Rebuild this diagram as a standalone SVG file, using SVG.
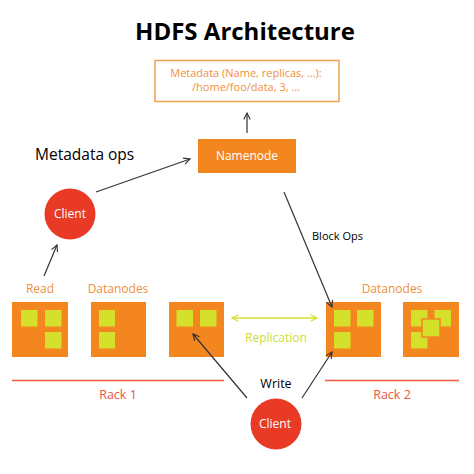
<svg xmlns="http://www.w3.org/2000/svg" width="474" height="474" viewBox="0 0 474 474">
<defs>
<style>
text{font-family:"Open Sans","Noto Sans","Liberation Sans",sans-serif}
.box{fill:#f4861f}
.sq{fill:#d4e02b}
.cl{fill:#e83a25}
.wt{fill:#ffffff;font-size:12px;text-anchor:middle}
.or{fill:#f0903c;font-size:12px;text-anchor:middle}
.rk{fill:#e8553e;font-size:12.5px;text-anchor:middle}
.ln{stroke:#333;stroke-width:1.2;fill:none}
</style>
<marker id="ah" viewBox="0 0 10 10" refX="9" refY="5" markerWidth="8" markerHeight="8" orient="auto-start-reverse" markerUnits="userSpaceOnUse">
<path d="M1,1 L9,5 L1,9" fill="none" stroke="#333" stroke-width="1.4"/>
</marker>
<marker id="ahg" viewBox="0 0 10 10" refX="9" refY="5" markerWidth="8" markerHeight="8" orient="auto-start-reverse" markerUnits="userSpaceOnUse">
<path d="M1,1 L9,5 L1,9" fill="none" stroke="#d4e02b" stroke-width="1.4"/>
</marker>
</defs>
<rect width="474" height="474" fill="#fff"/>
<text x="245" y="40" font-size="24" font-weight="bold" text-anchor="middle" fill="#000">HDFS Architecture</text>

<g id="metadata">
<rect x="155" y="60.5" width="184" height="41" fill="#fff" stroke="#f0a050" stroke-width="1.5"/>
<text x="246" y="77" fill="#f0903c" font-size="11" text-anchor="middle">Metadata (Name, replicas, …):</text>
<text x="246" y="91" fill="#f0903c" font-size="11" text-anchor="middle">/home/foo/data, 3, …</text>
</g>

<g id="namenode">
<rect class="box" x="198" y="139" width="98" height="34"/>
<text class="wt" x="247" y="160" font-size="12.5">Namenode</text>
</g>

<text x="35" y="160" font-size="15.5" fill="#000">Metadata ops</text>

<g id="client1">
<circle class="cl" cx="70" cy="214" r="25.5"/>
<text class="wt" x="70" y="218">Client</text>
</g>

<g id="client2">
<circle class="cl" cx="276" cy="424" r="25.5"/>
<text class="wt" x="275" y="428">Client</text>
</g>

<text class="or" x="40" y="293">Read</text>
<text class="or" x="118" y="293">Datanodes</text>
<text class="or" x="392" y="293">Datanodes</text>

<g id="dn1">
<rect class="box" x="12" y="302" width="56" height="55"/>
<rect class="sq" x="21" y="310" width="16.5" height="16.5"/>
<rect class="sq" x="45" y="310" width="16.5" height="16.5"/>
<rect class="sq" x="45" y="332" width="16.5" height="16.5"/>
</g>
<g id="dn2">
<rect class="box" x="91" y="302" width="55" height="55"/>
<rect class="sq" x="99" y="310" width="16" height="16.5"/>
<rect class="sq" x="99" y="332" width="16" height="16.5"/>
</g>
<g id="dn3">
<rect class="box" x="169" y="302" width="55" height="55"/>
<rect class="sq" x="176.5" y="310" width="16.5" height="16.5"/>
<rect class="sq" x="200" y="310" width="16.5" height="16.5"/>
</g>
<g id="dn4">
<rect class="box" x="326" y="302" width="55" height="55"/>
<rect class="sq" x="334" y="310" width="16.5" height="16.5"/>
<rect class="sq" x="357" y="310" width="16.5" height="16.5"/>
<rect class="sq" x="334" y="332" width="16.5" height="16.5"/>
</g>
<g id="dn5">
<rect class="box" x="403" y="302" width="56" height="55"/>
<rect class="sq" x="411" y="310" width="16.5" height="16.5"/>
<rect class="sq" x="434.5" y="310" width="16.5" height="16.5"/>
<rect class="sq" x="411" y="332" width="16.5" height="16.5"/>
<rect class="sq" x="422" y="319" width="18" height="18" stroke="#f4861f" stroke-width="1.5"/>
</g>

<text x="276" y="342" fill="#cddc39" font-size="12" text-anchor="middle">Replication</text>
<text x="276" y="388" fill="#000" font-size="12.5" text-anchor="middle">Write</text>
<text x="312" y="240" fill="#000" font-size="11">Block Ops</text>

<g id="racks">
<line x1="12" y1="380.5" x2="224" y2="380.5" stroke="#f05a3c" stroke-width="1.5"/>
<line x1="325" y1="380.5" x2="459" y2="380.5" stroke="#f05a3c" stroke-width="1.5"/>
<text class="rk" x="118" y="399">Rack 1</text>
<text class="rk" x="392" y="399">Rack 2</text>
</g>

<g id="connectors">
<line class="ln" x1="247" y1="133" x2="247" y2="113" marker-end="url(#ah)"/>
<line class="ln" x1="96" y1="192" x2="190" y2="159" marker-end="url(#ah)"/>
<line class="ln" x1="284" y1="192" x2="332" y2="307" marker-end="url(#ah)"/>
<line class="ln" x1="44" y1="276" x2="57" y2="245" marker-end="url(#ah)"/>
<line class="ln" x1="247" y1="398" x2="193" y2="334" marker-end="url(#ah)"/>
<line class="ln" x1="302" y1="398" x2="332" y2="352" marker-end="url(#ah)"/>
<line x1="232" y1="318" x2="317" y2="318" stroke="#d4e02b" stroke-width="1.3" marker-start="url(#ahg)" marker-end="url(#ahg)"/>
</g>
</svg>
